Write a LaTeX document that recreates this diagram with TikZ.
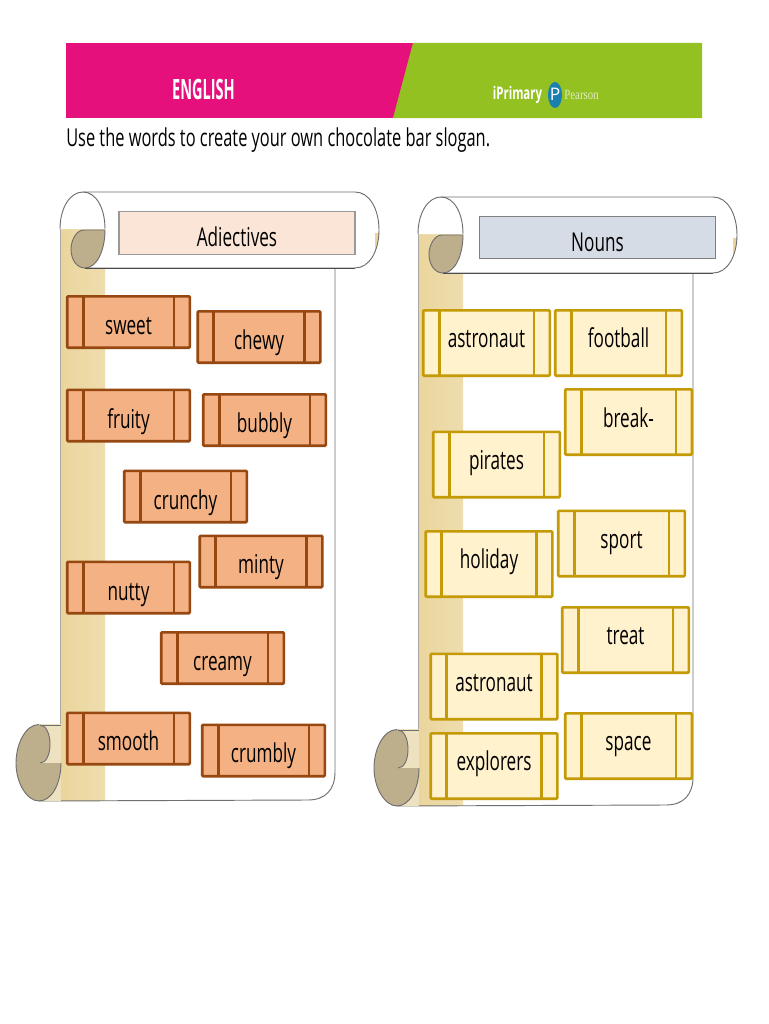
\documentclass[tikz,border=0pt]{standalone}
\usepackage{fontspec}
\usetikzlibrary{shapes.geometric}
\setmainfont{Open Sans}
\newfontfamily\narrowf[FakeStretch=0.66]{Open Sans}
\newfontfamily\instrf[FakeStretch=0.665]{Open Sans}
\newfontfamily\headf[FakeStretch=0.52]{Open Sans}
\newfontfamily\primf[FakeStretch=0.66]{Open Sans}
\newfontfamily\pearsonf[FakeStretch=0.78]{Liberation Serif}
\definecolor{pinkb}{HTML}{E6107C}
\definecolor{greenb}{HTML}{94C122}
\definecolor{adjfill}{HTML}{F4B183}
\definecolor{adjline}{HTML}{974710}
\definecolor{nounfill}{HTML}{FFF2CC}
\definecolor{nounline}{HTML}{C49A06}
\definecolor{paperA}{HTML}{EAD59C}
\definecolor{paperB}{HTML}{EEDDAE}
\definecolor{rolldark}{HTML}{BDAE8C}
\definecolor{rolllight}{HTML}{EDE1C0}
\definecolor{outl}{HTML}{6F6F6F}
\definecolor{adjtitle}{HTML}{FBE5D6}
\definecolor{nountitle}{HTML}{D6DCE5}
\definecolor{plogoc}{HTML}{1B7FB0}
\tikzset{
  x=0.75pt,y=-0.75pt,
  wordtext/.style={font=\narrowf\fontsize{19.5}{22}\selectfont,text=black,inner sep=0pt,anchor=base,yshift=0.5pt},
  adjbox/.style={draw=adjline,fill=adjfill,line width=2pt,rounded corners=0.8pt,inner sep=0pt,
    minimum width=92pt,minimum height=38.5pt,
    path picture={\draw[adjline,line width=2pt]
      ([xshift=12pt]path picture bounding box.north west)--([xshift=12pt]path picture bounding box.south west)
      ([xshift=-12pt]path picture bounding box.north east)--([xshift=-12pt]path picture bounding box.south east);}},
  nounbox/.style={draw=nounline,fill=nounfill,line width=2pt,rounded corners=0.8pt,inner sep=0pt,
    minimum width=95pt,minimum height=49pt,
    path picture={\draw[nounline,line width=2pt]
      ([xshift=12pt]path picture bounding box.north west)--([xshift=12pt]path picture bounding box.south west)
      ([xshift=-12pt]path picture bounding box.north east)--([xshift=-12pt]path picture bounding box.south east);}},
  titlebox/.style={draw=gray!80,line width=0.8pt,inner sep=0pt,minimum width=177pt,minimum height=32pt},
  rollline/.style={draw=outl,line width=0.7pt}
}
\newcommand{\scrollart}[1]{%
  % paper strip
  \fill[left color=paperA,right color=paperB] (60,229) rectangle (105,800);
  % body outline
  \draw[rollline,draw=gray!70] (60,229) -- (60,724);
  \draw[rollline] (335,268) -- (335,772) .. controls (335,790) and (325,800) .. (308,800) -- (39,801);
  % bottom roll
  \fill[rolllight] (39,724) rectangle (61,801);
  \fill[rolldark] (39,724.5) .. controls (25,724.5) and (16,745) .. (16,763)
     .. controls (16,783) and (27,801) .. (39,801) .. controls (52,801) and (61,783) .. (61,763)
     -- (40,763) .. controls (46,763) and (50,755) .. (50,744) .. controls (50,734) and (46,725) .. (39,724.5) -- cycle;
  \draw[rollline] (39,724.5) .. controls (25,724.5) and (16,745) .. (16,763)
     .. controls (16,783) and (27,801) .. (39,801) .. controls (52,801) and (61,783) .. (61,763);
  \draw[rollline] (40,725) -- (61,725);
  \draw[rollline] (40,725) .. controls (46,725) and (50,734) .. (50,744)
     .. controls (50,755) and (46,763) .. (40,763);
  % top roll
  \fill[white] (83,192) -- (355,192) .. controls (370,192) and (379,210) .. (379,230)
     .. controls (379,250) and (370,268) .. (355,268) -- (85,268)
     .. controls (97,268) and (105,250) .. (105,229) .. controls (105,208) and (96,192) .. (83,192) -- cycle;
  \fill[white] (60,229) .. controls (60,208) and (70,192) .. (83,192) .. controls (96,192) and (105,208) .. (105,229) -- cycle;
  \begin{scope}
    \clip (355,192) .. controls (370,192) and (379,210) .. (379,230) .. controls (379,250) and (370,268) .. (355,268) -- cycle;
    \fill[paperA] (375,233) rectangle (380,254);
  \end{scope}
  \draw[rollline] (60,229) .. controls (60,208) and (70,192) .. (83,192) -- (355,192)
     .. controls (370,192) and (379,210) .. (379,230) .. controls (379,250) and (370,268) .. (355,268) -- (85,268);
  \draw[rollline] (83,192) .. controls (96,192) and (105,208) .. (105,229);
  \draw[rollline,fill=rolldark] (105,230) -- (84,230) .. controls (76,230) and (71,241) .. (71,249)
     .. controls (71,260) and (77,268) .. (85,268) .. controls (97,268) and (105,250) .. (105,230) -- cycle;
  \draw[rollline,draw=black!70] (85,268) -- (355,268);
}
\begin{document}
\begin{tikzpicture}
\useasboundingbox (0,0) rectangle (768,1024);
\fill[white] (0,0) rectangle (768,1024);
% banner
\fill[pinkb] (66,43) rectangle (413,118);
\fill[greenb] (413,43) -- (702,43) -- (702,118) -- (393,118) -- cycle;
\node[font=\headf\bfseries\fontsize{21}{24}\selectfont,text=white,inner sep=0pt] (english) at (203.5,89) {ENGLISH};
\node[font=\primf\bfseries\fontsize{13}{15}\selectfont,text=white,inner sep=0pt] (iprimary) at (517.5,95) {iPrimary};
\node[ellipse,fill=plogoc,minimum width=10.5pt,minimum height=19.5pt,inner sep=0pt] (plogo) at (555,95) {};
\node[font=\fontsize{13}{13}\selectfont,text=white,inner sep=0pt] (plogot) at (555,94) {P};
\node[font=\pearsonf\fontsize{10.5}{13}\selectfont,text=white!70!greenb,inner sep=0pt,anchor=west] (pearson) at (564,95) {Pearson};
\node[font=\instrf\fontsize{18.5}{22}\selectfont,inner sep=0pt,anchor=base west] (instr) at (66,146) {Use the words to create your own chocolate bar slogan.};
% left scroll
\scrollart{}
\node[titlebox,fill=adjtitle] (adjt) at (237,233) {};
\node[wordtext] (adjtt) at (237,247) {Adiectives};
% right scroll
\begin{scope}[shift={(358pt*0.75,5pt*-0.75)}]
\scrollart{}
\end{scope}
\node[titlebox,fill=nountitle,draw=gray] (nount) at (597.5,237.5) {};
\node[wordtext] (nountt) at (597.5,252) {Nouns};
% adjective boxes
\foreach \n/\cx/\cy/\tx/\ty/\w in {a1/128.5/322/128.5/335/sweet,a2/259/337/259/350/chewy,a3/128.5/415.5/128.5/429/fruity,a4/264.5/420/264.5/433/bubbly,a5/185.5/496.5/185.5/510/crunchy,a6/261/561.5/261/574/minty,a7/128.5/587.5/128.5/601/nutty,a8/222.5/658/222.5/671/creamy,a9/128.5/738.5/128.5/751/smooth,a10/263.5/750.5/263.5/763/crumbly}{
  \node[adjbox] (\n) at (\cx,\cy) {};
  \node[wordtext] (\n t) at (\tx,\ty) {\w};
}
% noun boxes
\foreach \n/\cx/\cy/\tx/\ty/\w in {n1/486.5/343/486.5/348/astronaut,n2/618.5/343/618.5/348/football,n3/628.5/422/628.5/428/break-,n4/496.5/464.5/496.5/470/pirates,n5/621.5/543.5/621.5/549/sport,n6/489/564/489/569/holiday,n7/625.5/640/625.5/645/treat,n8/494/686.5/494/692/astronaut,n9/628.5/746/628.5/751/space,n10/494/766/494/771/explorers}{
  \node[nounbox] (\n) at (\cx,\cy) {};
  \node[wordtext] (\n t) at (\tx,\ty) {\w};
}
\end{tikzpicture}
\end{document}
